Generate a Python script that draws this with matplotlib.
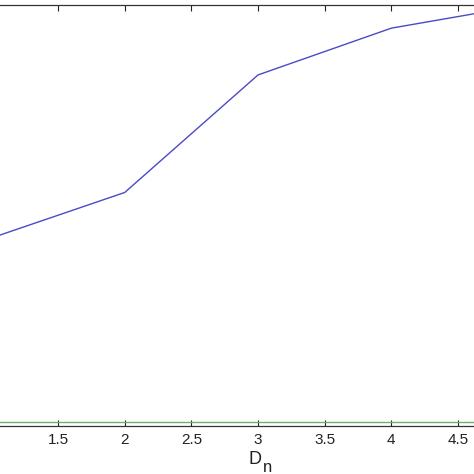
import matplotlib
matplotlib.use("Agg")
import matplotlib.pyplot as plt

plt.rcParams['font.family'] = ['Liberation Sans', 'DejaVu Sans']

# values (y axis is out of view, scaled 0..1)
d_n = [1, 2, 3, 4, 5]
series_blue = [0.447, 0.555, 0.834, 0.945, 1.0]
series_green = [0.011, 0.011, 0.011, 0.011, 0.011]
xticks = [1.5, 2, 2.5, 3, 3.5, 4, 4.5]

fig = plt.figure(figsize=(4.74, 4.74), dpi=100)
# axes reach past the figure edges, as in the cropped original
ax = fig.add_axes([-0.0181, 0.1006, 1.125, 0.8889])
ax.plot(d_n, series_blue, color='#4a4ac8', lw=1.0)
ax.plot(d_n, series_green, color='#6fae6f', lw=1.0)

ax.set_xlim(1, 5)
ax.set_ylim(0, 1)
ax.set_xticks(xticks)
ax.set_xticklabels([f"{t:g}" for t in xticks])
ax.tick_params(axis='x', direction='in', length=4, width=0.8, top=True,
               labelsize=11, pad=5, colors='#222222')
ax.tick_params(axis='y', left=False, labelleft=False)
for s in ax.spines.values():
    s.set_color('#333333')
    s.set_linewidth(0.9)

# "D" with a large, low subscript "n"
fig.text(262 / 474, 1 - 459.5 / 474, 'D', fontsize=13, ha='right', va='center',
         color='#222222')
fig.text(262.5 / 474, 1 - 472 / 474, 'n', fontsize=12, ha='left', va='baseline',
         color='#222222')

fig.savefig('out.png', dpi=100)
plt.close(fig)
